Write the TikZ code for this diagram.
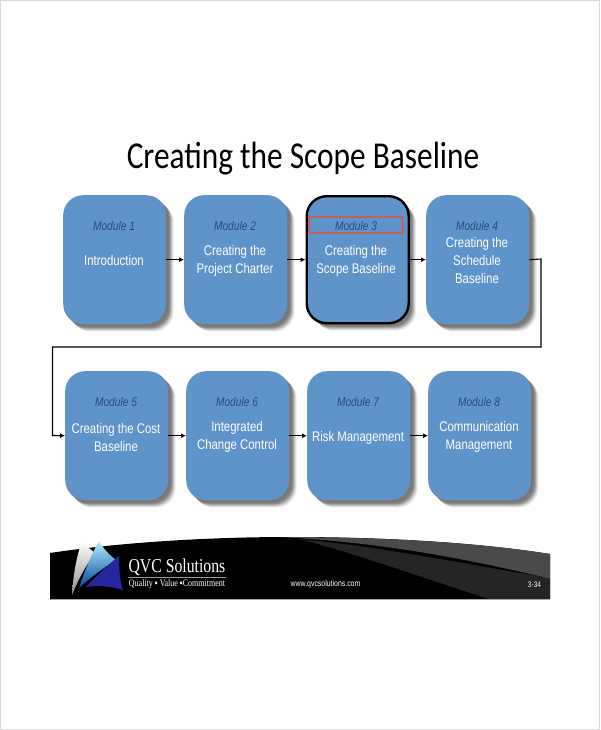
\documentclass[tikz,border=0pt]{standalone}
\usepackage{fontspec}
\setmainfont{Liberation Sans}
\newfontfamily\titlefont[FakeStretch=0.825]{Carlito}
\newfontfamily\narrowfont[FakeStretch=0.815]{Liberation Sans}
\newfontfamily\logofont[FakeStretch=0.8]{Liberation Serif}
\usetikzlibrary{shadows,arrows.meta,calc}
\definecolor{boxblue}{HTML}{5F94CB}
\definecolor{modtext}{HTML}{254A80}
\definecolor{redbox}{HTML}{C8605A}
\tikzset{
  x=1pt,y=-1pt,
  softshadow/.style={
    general shadow={fill=black,opacity=.05,shadow xshift=2pt,shadow yshift=-2pt,rounded corners=20pt},
    general shadow={fill=black,opacity=.07,shadow xshift=7.5pt,shadow yshift=-7.5pt,rounded corners=20pt},
    general shadow={fill=black,opacity=.10,shadow xshift=6.5pt,shadow yshift=-6.5pt,rounded corners=20pt},
    general shadow={fill=black,opacity=.14,shadow xshift=5.5pt,shadow yshift=-5.5pt,rounded corners=20pt},
    general shadow={fill=black,opacity=.16,shadow xshift=4.5pt,shadow yshift=-4.5pt,rounded corners=20pt},
    general shadow={fill=black,opacity=.16,shadow xshift=3.5pt,shadow yshift=-3.5pt,rounded corners=20pt}},
  modbox/.style={softshadow,fill=boxblue,rounded corners=20pt,minimum width=103pt,minimum height=129pt,inner sep=0pt,anchor=north west},
  activebox/.style={modbox,draw=black,line width=2.4pt,minimum width=102pt,minimum height=127pt},
  modlabel/.style={font=\narrowfont\itshape\fontsize{12.5}{14}\selectfont,text=modtext},
  bodytext/.style={font=\narrowfont\fontsize{14}{18}\selectfont,text=white,align=center},
  flow/.style={black,line width=1.1pt,-{Latex[length=5pt,width=5pt]}},
  edgeline/.style={fill=black!15},
}
\begin{document}
\begin{tikzpicture}
\useasboundingbox (0,0) rectangle (600,730);
\fill[white] (0,0) rectangle (600,730);
\fill[edgeline] (0,0) rectangle (600,1);
\fill[edgeline] (0,729) rectangle (600,730);
\fill[edgeline] (0,0) rectangle (1,730);
\fill[edgeline] (599,0) rectangle (600,730);
\node[font=\titlefont\fontsize{38}{44}\selectfont,text=black,anchor=center] (title) at (303,159) {Creating the Scope Baseline};
% boxes
\node[modbox] (m1) at (63,195) {};
\node[modbox] (m2) at (184,195) {};
\node[activebox] (m3) at (305.5,195) {};
\node[modbox] (m4) at (426,195) {};
\node[modbox] (m5) at (65,371) {};
\node[modbox] (m6) at (186,371) {};
\node[modbox] (m7) at (307,371) {};
\node[modbox] (m8) at (428,371) {};
% labels
\node[modlabel] (l1) at (114,226) {Module 1};
\node[modlabel] (l2) at (235,226) {Module 2};
\node[draw=redbox,line width=1.8pt,minimum width=94pt,minimum height=16pt,inner sep=0pt] (r3) at (356,225) {};
\node[modlabel] (l3) at (356,226) {Module 3};
\node[modlabel] (l4) at (477,226) {Module 4};
\node[modlabel] (l5) at (116,402) {Module 5};
\node[modlabel] (l6) at (237,402) {Module 6};
\node[modlabel] (l7) at (358,402) {Module 7};
\node[modlabel] (l8) at (479,402) {Module 8};
\node[bodytext] (t1) at (114,260) {Introduction};
\node[bodytext] (t2) at (235,260.5) {Creating the\\Project Charter};
\node[bodytext] (t3) at (356,260.5) {Creating the\\Scope Baseline};
\node[bodytext] (t4) at (477,260) {Creating the\\Schedule\\Baseline};
\node[bodytext] (t5) at (116,437) {Creating the Cost\\Baseline};
\node[bodytext] (t6) at (237,437) {Integrated\\Change Control};
\node[bodytext] (t7) at (358,437.5) {Risk Management};
\node[bodytext] (t8) at (479,437) {Communication\\Management};
% connectors
\coordinate (a1) at (541,259);
\coordinate (a2) at (541,347);
\coordinate (a3) at (52.5,347);
\coordinate (a4) at (52.5,435.5);
\draw[flow] (m1.east) -- (m2.west);
\draw[flow] (m2.east) -- (m3.west);
\draw[flow] (m3.east) -- (m4.west);
\draw[flow] (m4.east) -- (a1) -- (a2) -- (a3) -- (a4) -- (m5.west);
\draw[flow] (m5.east) -- (m6.west);
\draw[flow] (m6.east) -- (m7.west);
\draw[flow] (m7.east) -- (m8.west);
% footer
\fill[black] (50,553) .. controls (130,541) and (220,537) .. (290,537) .. controls (390,537) and (480,543) .. (550,554) -- (550,599) -- (50,599) -- cycle;
\fill[black!86] (300,539) .. controls (390,548) and (470,565) .. (550,578) -- (550,599) -- (489,599) .. controls (420,577) and (360,555) .. (300,539) -- cycle;
\fill[black!71] (280,537) .. controls (390,537) and (480,543) .. (550,554) -- (550,578.5) .. controls (470,560) and (390,543) .. (280,537) -- cycle;
\fill[black!35] (50,599) rectangle (550,600.2);
% logo
\shade[top color=white,bottom color=black!45] (72,595) .. controls (73,575) and (77,555) .. (82,541) .. controls (85,545) and (90,549) .. (95,553) .. controls (86,565) and (78,580) .. (72,595) -- cycle;
\shade[top color=blue!20!cyan!30,bottom color=blue!55!cyan!60!black] (99,541) .. controls (103,548) and (109,555) .. (116,560) .. controls (103,568) and (90,578) .. (79,588) .. controls (85,570) and (92,553) .. (99,541) -- cycle;
\fill[blue!55!black!85] (119,556) .. controls (119,570) and (120,582) .. (123,590) .. controls (110,586) and (97,585) .. (86,587) .. controls (96,576) and (108,565) .. (119,556) -- cycle;
\node[font=\logofont\fontsize{19.7}{23}\selectfont,text=white,anchor=center] (logoname) at (177,567) {QVC Solutions};
\fill[black!40] (128,577) rectangle (226,578);
\node[font=\logofont\fontsize{10}{12}\selectfont,text=white,anchor=center] (logotag) at (177,584) {Quality ▪ Value ▪Commitment};
\node[font=\narrowfont\fontsize{8.5}{10}\selectfont,text=white,anchor=center] (web) at (325.5,584.5) {www.qvcsolutions.com};
\node[font=\narrowfont\fontsize{8}{10}\selectfont,text=white,anchor=center] (pg) at (534.5,584.5) {3-34};
\end{tikzpicture}
\end{document}
